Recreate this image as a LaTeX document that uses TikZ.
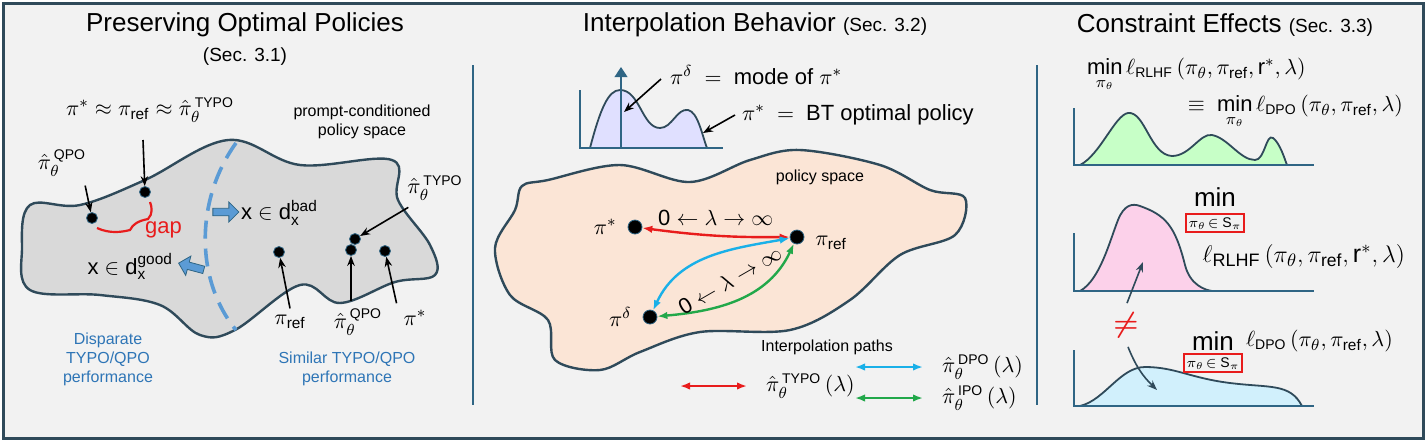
\documentclass[tikz,border=0pt]{standalone}
\usepackage{amsmath,amssymb}
\usepackage{fontspec}
\setmainfont{Liberation Sans}
\usetikzlibrary{shapes,arrows,arrows.meta}
\usetikzlibrary{positioning,calc}
\definecolor{frameC}{HTML}{2F4A5A}
\definecolor{axisC}{HTML}{2F6584}
\definecolor{txtBlue}{HTML}{2E75B6}
\definecolor{dashBlue}{HTML}{5B9BD5}
\definecolor{blobGray}{HTML}{D9D9D9}
\definecolor{peach}{HTML}{FBE5D6}
\definecolor{redA}{HTML}{E81C1C}
\definecolor{blueA}{HTML}{1AB0E8}
\definecolor{greenA}{HTML}{22A84A}
\newcommand{\pih}[1]{\hat{\pi}_\theta^{\,\text{\scriptsize #1}}}
\newcommand{\pref}{\pi_{\text{ref}}}
\begin{document}
\begin{tikzpicture}[x=0.5pt,y=-0.5pt,every text node part/.style={align=center}]
\tikzset{myTitle/.style={font=\fontsize{13}{15}\selectfont}}
\tikzset{mySec/.style={font=\fontsize{9.5}{11}\selectfont}}
\tikzset{myFont/.style={font=\fontsize{8}{9.5}\selectfont}}
\tikzset{myMath/.style={font=\fontsize{11}{13}\selectfont}}
\tikzset{myDot/.style={circle,fill=black,draw=axisC,inner sep=0pt,minimum size=5.5pt}}
\tikzset{myBigDot/.style={myDot,minimum size=7pt}}
\tikzset{myArrow/.style={-{Stealth[length=5pt]},thick}}
\tikzset{myBlob/.style={draw=frameC,line width=1.2pt}}
\tikzset{myAxis/.style={draw=axisC,line width=1pt}}
\tikzset{myCurve/.style={draw=frameC,line width=0.9pt}}
\tikzset{myBox/.style={draw=redA,line width=1pt,inner sep=1.5pt,font=\fontsize{7}{8}\selectfont}}
\tikzset{myPath/.style={{Latex[length=5pt]}-{Latex[length=5pt]},line width=1.2pt}}

% frame
\path[use as bounding box] (0,0) rectangle (1426,441);
\draw[frameC,fill=black!5,line width=1.5pt] (3,3) rectangle (1423,438);
\draw[axisC,line width=1pt] (473,65) -- (473,405);
\draw[axisC,line width=1pt] (1037,65) -- (1037,405);

% panel 1
\node[myTitle] (t1) at (245,25) {Preserving Optimal Policies};
\node[mySec] (s1) at (245,57) {(Sec. 3.1)};
\draw[myBlob,fill=blobGray] plot[smooth cycle,tension=0.6] coordinates {(22,248) (30,205) (80,205) (145,180) (228,140) (300,165) (392,160) (398,200) (430,245) (435,275) (395,282) (340,303) (300,285) (235,330) (200,335) (160,305) (100,295) (30,290)};
\coordinate (dTop) at (236,143);
\coordinate (dBot) at (236,330);
\draw[dashBlue,line width=1.8pt,dash pattern=on 9pt off 5pt] (dTop) .. controls (195,200) and (195,280) .. (dBot);

\node[myMath] (eq1) at (150,110) {$\pi^{*}\approx\pref\approx\pih{TYPO}$};
\node[myFont,align=left] (space1) at (362,122) {prompt-conditioned\\policy space};

\node[myDot] (qpoA) at (92,218) {};
\node[myDot] (refA) at (145,192) {};
\node[myDot] (typoB) at (355,239) {};
\node[myDot] (qpoB) at (351,250) {};
\node[myDot] (refB) at (279,252) {};
\node[myDot] (starB) at (385,251) {};

\node[myMath] (qpoLa) at (62,163) {$\pih{QPO}$};
\draw[myArrow] (qpoLa.south east) ++(-8,2) -- (qpoA);
\coordinate (refTop) at (143,140);
\draw[myArrow] (refTop) -- (refA);
\draw[redA,line width=1.1pt] (97,228) .. controls (110,234) and (122,232) .. (130,230) .. controls (133,224) and (138,221) .. (148,219) .. controls (153,214) and (152,207) .. (150,202);
\node[myMath,text=redA,anchor=west] (gap) at (138,230) {gap};

\node[single arrow,fill=dashBlue,draw=axisC,minimum height=13pt,minimum width=10pt,single arrow head extend=2pt,inner sep=1pt] (bA) at (224,212) {};
\node[myMath,anchor=west] (bad) at (234,213) {x $\in$ d$_{\text{x}}^{\text{bad}}$};
\node[single arrow,fill=dashBlue,draw=axisC,minimum height=13pt,minimum width=10pt,single arrow head extend=2pt,inner sep=1pt,rotate=165] (gA) at (193,267) {};
\node[myMath,anchor=east] (good) at (180,266) {x $\in$ d$_{\text{x}}^{\text{good}}$};

\node[myMath] (typoLb) at (435,188) {$\pih{TYPO}$};
\draw[myArrow] (typoLb.south west) ++(8,0) -- (typoB);
\node[myMath] (refLb) at (290,322) {$\pref$};
\draw[myArrow] (refLb.north) -- (refB);
\node[myMath] (qpoLb) at (358,322) {$\pih{QPO}$};
\draw[myArrow] (qpoLb.north -| qpoB) -- (qpoB);
\node[myMath] (starLb) at (415,318) {$\pi^{*}$};
\draw[myArrow] (starLb.north west) -- (starB);

\node[myFont,text=txtBlue] (disp) at (108,359) {Disparate\\TYPO/QPO\\performance};
\node[myFont,text=txtBlue] (sim) at (347,369) {Similar TYPO/QPO\\performance};

% panel 2
\node[myTitle] (t2) at (755,25) {Interpolation Behavior \fontsize{9.5}{11}\selectfont(Sec. 3.2)};
\fill[blue!12] (590,148) .. controls (600,110) and (608,90) .. (620,90) .. controls (640,90) and (642,128) .. (660,128) .. controls (672,128) and (677,108) .. (688,110) .. controls (698,112) and (702,135) .. (707,148) -- cycle;
\draw[myCurve] (590,148) .. controls (600,110) and (608,90) .. (620,90) .. controls (640,90) and (642,128) .. (660,128) .. controls (672,128) and (677,108) .. (688,110) .. controls (698,112) and (702,135) .. (707,148);
\draw[myAxis] (580,90) -- (580,148) -- (723,148);
\coordinate (modeBot) at (621,148);
\coordinate (modeTop) at (621,67);
\draw[myAxis,-{Triangle[length=5pt]}] (modeBot) -- (modeTop);
\node[myMath,anchor=west] (modeL) at (663,75) {$\pi^{\delta}\;=\;$ mode of $\pi^{*}$};
\coordinate (modePt) at (624,112);
\draw[myArrow] (modeL.west) ++(-2,4) -- (modePt);
\node[myMath,anchor=west] (btL) at (735,115) {$\pi^{*}\;=\;$ BT optimal policy};
\coordinate (btPt) at (703,133);
\draw[myArrow] (btL.west) -- (btPt);

\draw[myBlob,fill=peach] plot[smooth cycle,tension=0.55] coordinates {(495,248) (515,210) (522,186) (548,180) (620,165) (690,182) (750,160) (800,150) (880,165) (930,190) (965,198) (955,235) (900,255) (850,300) (790,330) (700,332) (640,352) (600,370) (555,360) (548,320) (510,295)};
\node[myFont] (space2) at (820,177) {policy space};
\node[myBigDot] (star2) at (635,227) {};
\node[myBigDot] (ref2) at (797,237) {};
\node[myBigDot] (delta2) at (650,317) {};
\node[myMath,left=2pt of star2] (starL2) {$\pi^{*}$};
\node[myMath,right=2pt of ref2,yshift=-3pt] (refL2) {$\pref$};
\node[myMath,left=2pt of delta2] (deltaL2) {$\pi^{\delta}$};
\draw[myPath,redA] (star2) to[bend right=4] node[above=1pt,myMath,text=black] {0 $\leftarrow$ $\lambda$ $\rightarrow$ $\infty$} (ref2);
\draw[myPath,blueA] (ref2) to[out=190,in=65] (delta2);
\draw[myPath,greenA] (ref2) to[out=245,in=5] (delta2);
\node[myMath,rotate=30] (lamL2) at (730,280) {0 $\leftarrow$ $\lambda$ $\rightarrow$ $\infty$};

\node[myFont] (legT) at (827,347) {Interpolation paths};
\coordinate (rA) at (680,386); \coordinate (rB) at (747,386);
\coordinate (bA2) at (855,367); \coordinate (bB2) at (923,367);
\coordinate (gA2) at (855,398); \coordinate (gB2) at (923,398);
\draw[myPath,redA] (rA) -- (rB);
\draw[myPath,blueA] (bA2) -- (bB2);
\draw[myPath,greenA] (gA2) -- (gB2);
\node[myMath,right=6pt of rB] (typoLeg) {$\pih{TYPO}\left(\lambda\right)$};
\node[myMath,right=6pt of bB2] (dpoLeg) {$\pih{DPO}\left(\lambda\right)$};
\node[myMath,right=6pt of gB2] (ipoLeg) {$\pih{IPO}\left(\lambda\right)$};

% panel 3
\node[myTitle] (t3) at (1225,25) {Constraint Effects \fontsize{9.5}{11}\selectfont(Sec. 3.3)};
\draw[myCurve,fill=green!22] (1080,165) .. controls (1100,155) and (1115,115) .. (1128,113) .. controls (1145,111) and (1150,155) .. (1172,156) .. controls (1190,156) and (1200,133) .. (1212,135) .. controls (1228,138) and (1240,160) .. (1255,160) .. controls (1265,160) and (1266,133) .. (1273,138) .. controls (1280,143) and (1285,160) .. (1287,165);
\draw[myAxis] (1074,108) -- (1074,165) -- (1314,165);
\node[myMath,anchor=west] (rlhf1) at (1080,75) {$\min\limits_{\pi_\theta}\ell_{\text{\scriptsize RLHF}}\left(\pi_\theta,\pref,\text{r}^{*},\lambda\right)$};
\node[myMath,anchor=east] (dpo1) at (1410,112) {$\equiv\;\min\limits_{\pi_\theta}\ell_{\text{\scriptsize DPO}}\left(\pi_\theta,\pref,\lambda\right)$};

\draw[myCurve,fill=magenta!18] (1080,291) .. controls (1100,280) and (1110,240) .. (1118,220) .. controls (1124,205) and (1132,203) .. (1140,206) .. controls (1165,215) and (1175,225) .. (1185,265) .. controls (1190,285) and (1205,290) .. (1212,291);
\draw[myAxis] (1074,233) -- (1074,291) -- (1314,291);
\node[font=\fontsize{13}{15}\selectfont] (min2) at (1215,197) {min};
\node[myBox,below=0pt of min2] (box2) {$\pi_\theta\!\in$ S$_\pi$};
\node[font=\fontsize{12.5}{15}\selectfont,anchor=east] (rlhf2) at (1412,256) {$\ell_{\text{\small RLHF}}\left(\pi_\theta,\pref,\text{r}^{*},\lambda\right)$};

\draw[myCurve,fill=cyan!18] (1080,406) .. controls (1105,400) and (1120,367) .. (1145,367) .. controls (1175,367) and (1190,378) .. (1230,383) .. controls (1270,388) and (1290,383) .. (1302,406);
\draw[myAxis] (1074,350) -- (1074,406) -- (1314,406);
\node[font=\fontsize{13}{15}\selectfont] (min3) at (1213,341) {min};
\node[myBox,below=-2pt of min3] (box3) {$\pi_\theta\!\in$ S$_\pi$};
\node[myMath,right=-1pt of min3] (dpo3) {$\ell_{\text{\scriptsize DPO}}\left(\pi_\theta,\pref,\lambda\right)$};

\node[text=redA,font=\Large\bfseries] (neq) at (1126,325) {$\boldsymbol{\neq}$};
\coordinate (pinkPt) at (1143,262);
\coordinate (bluePt) at (1157,390);
\draw[draw=frameC,myArrow] (neq.north) ++(1,-2) -- (pinkPt);
\draw[draw=frameC,myArrow] (neq.south) ++(2,2) to[bend right=12] (bluePt);
\end{tikzpicture}
\end{document}
